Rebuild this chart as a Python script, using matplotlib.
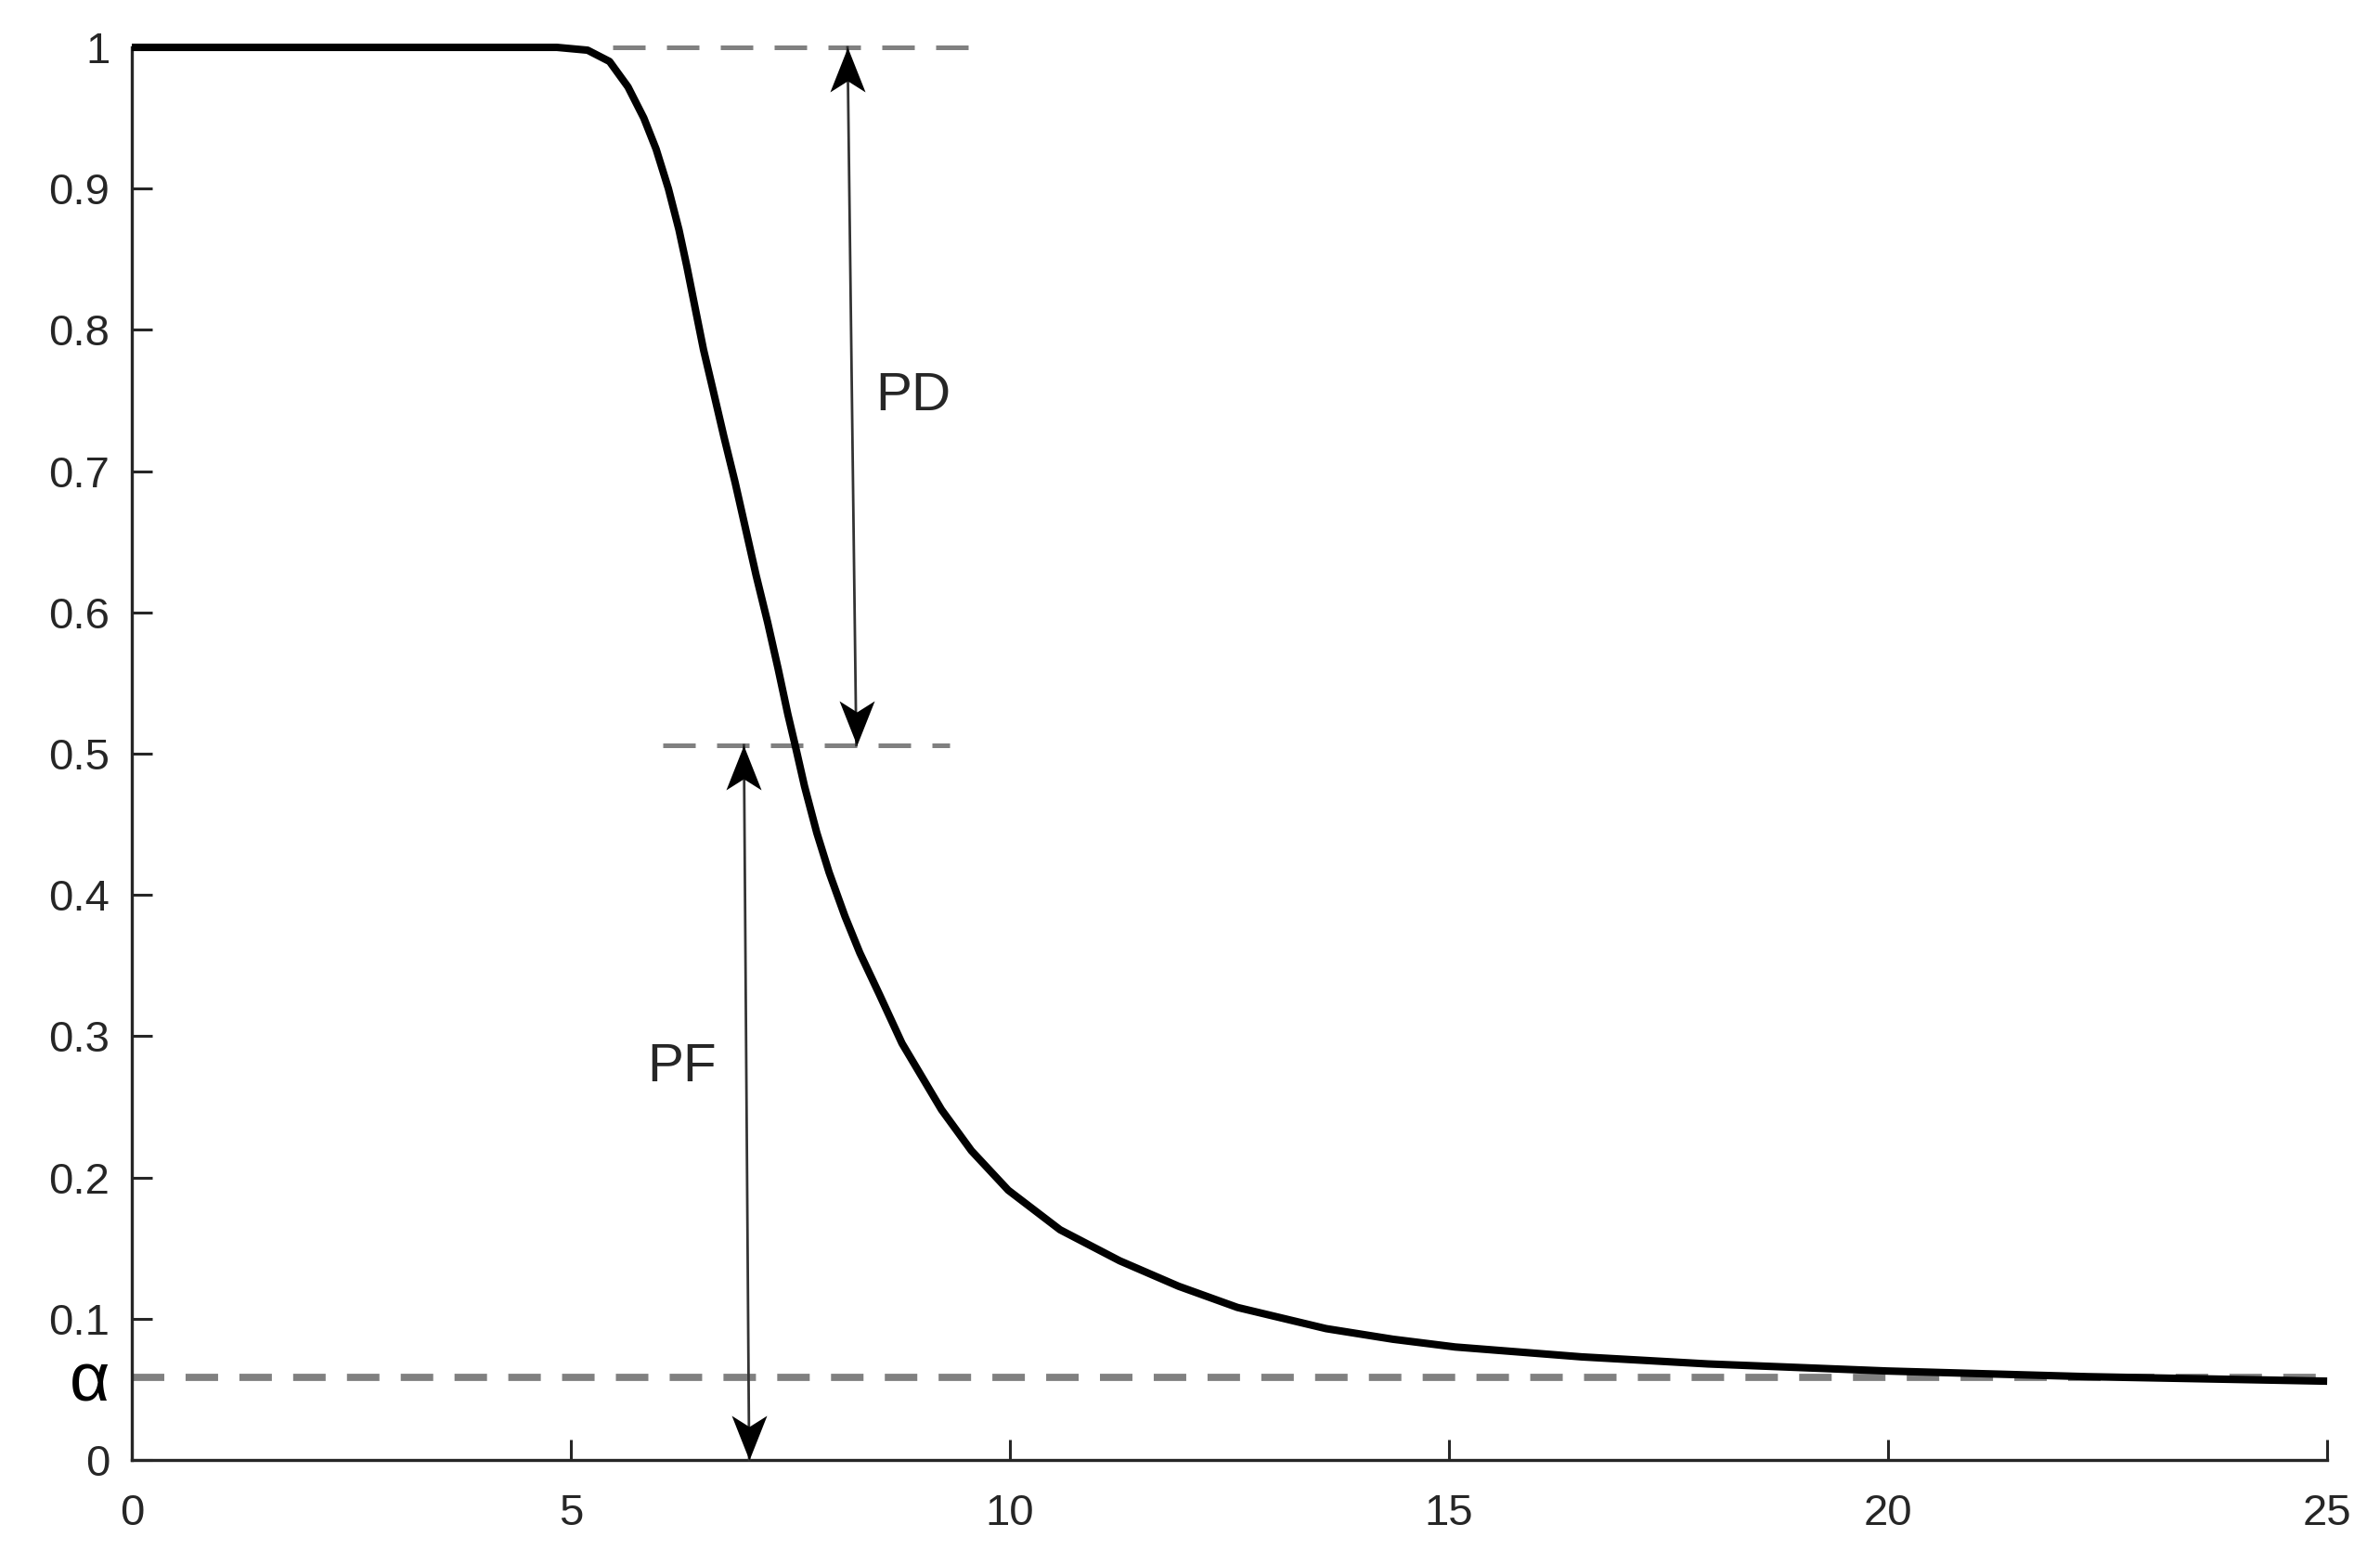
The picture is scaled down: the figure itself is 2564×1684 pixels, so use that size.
import matplotlib
matplotlib.use("Agg")
import matplotlib.pyplot as plt
from matplotlib.path import Path

plt.rcParams['font.family'] = ['Liberation Sans', 'DejaVu Sans']

# curve
x_vals = [0.0, 2.5, 4.84, 5.19, 5.44, 5.65, 5.83, 5.97, 6.11, 6.23, 6.32, 6.41,
          6.51, 6.62, 6.74, 6.87, 6.99, 7.11, 7.24, 7.36, 7.47, 7.55, 7.66, 7.80,
          7.94, 8.12, 8.29, 8.51, 8.77, 9.22, 9.56, 9.98, 10.57, 11.25, 11.92,
          12.59, 13.60, 14.36, 15.07, 16.51, 17.95, 19.99, 22.27, 25.0]
y_vals = [1.0, 1.0, 1.0, 0.998, 0.990, 0.972, 0.950, 0.928, 0.900, 0.871, 0.845, 0.817,
          0.786, 0.757, 0.725, 0.692, 0.659, 0.626, 0.593, 0.560, 0.528, 0.507, 0.477, 0.444,
          0.416, 0.385, 0.359, 0.330, 0.295, 0.248, 0.219, 0.191, 0.163, 0.141, 0.123,
          0.108, 0.093, 0.0855, 0.080, 0.073, 0.068, 0.063, 0.059, 0.0558]

alpha_level = 0.0585
mid_level = 0.506
top_level = 1.0

top_line_x = [5.48, 9.55]
mid_line_x = [6.05, 9.31]

pd_x = [8.25, 8.15]
pd_y = [mid_level, top_level]
pf_x = [7.03, 6.97]
pf_y = [0.0, mid_level]

x_ticks = [0, 5, 10, 15, 20, 25]
y_ticks = [0, 0.1, 0.2, 0.3, 0.4, 0.5, 0.6, 0.7, 0.8, 0.9, 1.0]
y_tick_labels = ['0', '0.1', '0.2', '0.3', '0.4', '0.5', '0.6', '0.7', '0.8', '0.9', '1']

axis_col = '#262626'
dash_col = '#808080'

# concave arrow heads (MATLAB style)
codes = [Path.MOVETO, Path.LINETO, Path.LINETO, Path.LINETO, Path.CLOSEPOLY]
head_up = Path([(0, 0), (19, -48), (0, -36), (-19, -48), (0, 0)], codes)
head_down = Path([(0, 0), (19, 48), (0, 36), (-19, 48), (0, 0)], codes)
head_ms = 96 * 72 / 200

fig = plt.figure(figsize=(12.82, 8.42), dpi=200)
ax = fig.add_axes([0.0554, 0.0659, 0.9224, 0.9038])

# dashed guide lines
ax.plot([0, 25], [alpha_level, alpha_level], color=dash_col, lw=2.8,
        dashes=(4.5, 2.95), clip_on=False, zorder=2)
ax.plot(top_line_x, [top_level, top_level], color=dash_col, lw=1.8,
        dashes=(7, 4.6), clip_on=False, zorder=2)
ax.plot(mid_line_x, [mid_level, mid_level], color=dash_col, lw=1.8,
        dashes=(7, 4.6), clip_on=False, zorder=2)

# PD / PF arrows
for xs, ys in [(pd_x, pd_y), (pf_x, pf_y)]:
    ax.plot(xs, ys, color='#333333', lw=1.0, clip_on=False, zorder=3)
    ax.plot(xs[1], ys[1], marker=head_up, ms=head_ms, color='black',
            mec='none', clip_on=False, zorder=4)
    ax.plot(xs[0], ys[0], marker=head_down, ms=head_ms, color='black',
            mec='none', clip_on=False, zorder=4)

# main curve
ax.plot(x_vals, y_vals, color='black', lw=2.9, clip_on=False, zorder=5,
        solid_capstyle='butt', solid_joinstyle='round')

ax.text(8.47, 0.753, 'PD', fontsize=21, color=axis_col, ha='left', va='center')
ax.text(5.87, 0.278, 'PF', fontsize=21, color=axis_col, ha='left', va='center')
ax.text(-0.25, alpha_level - 0.004, 'α', fontsize=27, color='black',
        ha='right', va='center')

ax.set_xlim(0, 25)
ax.set_ylim(0, 1)
ax.set_xticks(x_ticks)
ax.set_yticks(y_ticks)
ax.set_yticklabels(y_tick_labels)

for side in ['top', 'right']:
    ax.spines[side].set_visible(False)
for side in ['left', 'bottom']:
    ax.spines[side].set_color(axis_col)
    ax.spines[side].set_linewidth(1.2)

ax.tick_params(direction='in', length=7.9, width=1.1, color=axis_col,
               labelcolor=axis_col, labelsize=17)
ax.tick_params(axis='x', pad=13)
ax.tick_params(axis='y', pad=8.6)

fig.savefig('out.png', dpi=200)
